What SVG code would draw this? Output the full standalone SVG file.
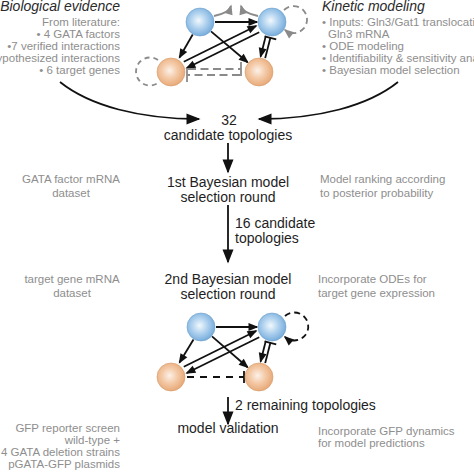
<svg xmlns="http://www.w3.org/2000/svg" width="474" height="474" viewBox="0 0 474 474">
<style>
text{font-family:"Liberation Sans",Arial,sans-serif}
.t{font-size:14px;fill:#1e1e1e}
.h{font-size:14px;fill:#2a2a2a;font-style:italic}
.g{font-size:11.5px;fill:#8e8e8e}
.e{stroke:#111;stroke-width:1.8;fill:none}
.gy{stroke:#8a8a8a;stroke-width:1.8;fill:none}
.d{stroke-dasharray:8 4.5}
.db{stroke-dasharray:7 6}
.tf{fill:url(#gb);stroke:#6b9fcc;stroke-width:0.6}
.tg{fill:url(#go);stroke:#d79a6a;stroke-width:0.6}
</style>
<defs>
<radialGradient id="gb" cx="0.45" cy="0.45" r="0.6">
<stop offset="0" stop-color="#f2f8fd"/><stop offset="0.45" stop-color="#b2d3ef"/><stop offset="1" stop-color="#6ea7d9"/>
</radialGradient>
<radialGradient id="go" cx="0.45" cy="0.45" r="0.6">
<stop offset="0" stop-color="#fcf1e9"/><stop offset="0.45" stop-color="#f4cba9"/><stop offset="1" stop-color="#e6a470"/>
</radialGradient>
<marker id="ah" viewBox="0 0 10 8" refX="8.5" refY="4" markerWidth="10" markerHeight="8" markerUnits="userSpaceOnUse" orient="auto" overflow="visible"><path d="M0,0 L10,4 L0,8 z" fill="#111"/></marker>
<marker id="ahg" viewBox="0 0 10 8" refX="8.5" refY="4" markerWidth="10" markerHeight="8" markerUnits="userSpaceOnUse" orient="auto" overflow="visible"><path d="M0,0 L10,4 L0,8 z" fill="#8a8a8a"/></marker>
<marker id="ahL" viewBox="0 0 14 11" refX="12.5" refY="5.5" markerWidth="14" markerHeight="11" markerUnits="userSpaceOnUse" orient="auto" overflow="visible"><path d="M0,0 L14,5.5 L0,11 z" fill="#111"/></marker>
<marker id="tb" viewBox="-1 -6 2 12" refX="0" refY="0" markerWidth="2" markerHeight="12" markerUnits="userSpaceOnUse" orient="auto" overflow="visible"><path d="M0,-6 V6" stroke="#111" stroke-width="1.8"/></marker>
<marker id="tbg" viewBox="-1 -7 2 14" refX="0" refY="0" markerWidth="2" markerHeight="14" markerUnits="userSpaceOnUse" orient="auto" overflow="visible"><path d="M0,-7 V7" stroke="#8a8a8a" stroke-width="1.8"/></marker>
</defs>

<g id="texts-top">
<text class="h" x="120" y="10.5" text-anchor="end">Biological evidence</text>
<g class="g" text-anchor="end">
<text class="g" x="120" y="26">From literature:</text>
<text class="g" x="120" y="37.5">• 4 GATA factors</text>
<text class="g" x="120" y="50">•7 verified interactions</text>
<text class="g" x="120" y="62">hypothesized interactions</text>
<text class="g" x="120" y="74">• 6 target genes</text>
</g>
<text class="h" x="322" y="10.5">Kinetic modeling</text>
<text class="g" x="322" y="25.5">• Inputs: Gln3/Gat1 translocation</text>
<text class="g" x="328" y="37.5">Gln3 mRNA</text>
<text class="g" x="322" y="50">• ODE modeling</text>
<text class="g" x="322" y="62">• Identifiability &amp; sensitivity analysis</text>
<text class="g" x="322" y="74">• Bayesian model selection</text>
</g>

<g id="connectors">
<!-- top network -->
<path class="e" d="M215,22 L257,22" marker-end="url(#ah)"/>
<path class="e" d="M192.7,34.5 L179.5,57.5" marker-end="url(#ah)"/>
<path class="e" d="M211,31.4 L247.6,62.3" marker-end="url(#ah)"/>
<path class="e" d="M183.8,61.8 L256.1,26" marker-end="url(#ah)"/>
<path class="e" d="M259.2,32.2 L186.8,68" marker-end="url(#ah)"/>
<path class="e" d="M265.8,35.9 L260.6,56.5" marker-end="url(#ah)"/>
<path class="e" d="M265.2,58.1 L270.4,37.8" marker-end="url(#tb)"/>
<path class="gy d" d="M188,69 L241,69" marker-end="url(#tbg)"/>
<path class="gy d" d="M240,75 L187,75" marker-end="url(#tbg)"/>
<path class="gy" stroke-dasharray="5 4" d="M158,60 A14,14 0 1,0 158,83"/>
<path class="gy" stroke-dasharray="6 4" d="M284,10 A13.5,13.5 0 1,1 285,30" marker-end="url(#ahg)"/>
<path class="gy" d="M214,16 Q229,13 231,6" marker-end="url(#ahg)"/>
<path class="gy" d="M258,16 Q243,13 241,6" marker-end="url(#ahg)"/>
<!-- flow arrows -->
<path class="e" d="M60,82 C90,106 140,119 199,119" marker-end="url(#ahL)"/>
<path class="e" d="M398,82 C368,106 318,119 259,119" marker-end="url(#ahL)"/>
<path class="e" d="M228,143 L228,172" marker-end="url(#ahL)"/>
<path class="e" d="M228,205 L228,262" marker-end="url(#ahL)"/>
<path class="e" d="M228,397 L228,424" marker-end="url(#ahL)"/>
<!-- bottom network -->
<path class="e" d="M216,327 L257,327" marker-end="url(#ah)"/>
<path class="e" d="M193.5,339.5 L179.5,362.5" marker-end="url(#ah)"/>
<path class="e" d="M212,336.4 L247.6,367.3" marker-end="url(#ah)"/>
<path class="e" d="M183.8,366.8 L256.1,331" marker-end="url(#ah)"/>
<path class="e" d="M259.2,337.2 L186.8,373" marker-end="url(#ah)"/>
<path class="e" d="M265.8,340.9 L260.6,361.5" marker-end="url(#ah)"/>
<path class="e" d="M265.2,363.1 L270.4,342.8" marker-end="url(#tb)"/>
<path class="e db" d="M187,377 L244,377" marker-end="url(#tb)"/>
<path class="e" stroke-dasharray="6 4" d="M285,316 A14,14 0 1,1 285,337" marker-end="url(#ah)"/>
</g>

<g id="top-tf1"><circle class="tf" cx="200" cy="22" r="14"/></g>
<g id="top-tf2"><circle class="tf" cx="272" cy="22" r="14"/></g>
<g id="top-tg1"><circle class="tg" cx="171" cy="72" r="14"/></g>
<g id="top-tg2"><circle class="tg" cx="259" cy="72" r="14"/></g>

<g id="bot-tf1"><circle class="tf" cx="201" cy="327" r="14"/></g>
<g id="bot-tf2"><circle class="tf" cx="272" cy="327" r="14"/></g>
<g id="bot-tg1"><circle class="tg" cx="171" cy="377" r="14"/></g>
<g id="bot-tg2"><circle class="tg" cx="259" cy="377" r="14"/></g>

<g id="step-candidates" text-anchor="middle">
<text class="t" x="229" y="125">32</text>
<text class="t" x="228" y="140">candidate topologies</text>
</g>
<g id="step-round1">
<text class="t" x="228" y="186.5" text-anchor="middle">1st Bayesian model</text>
<text class="t" x="228" y="201.5" text-anchor="middle">selection round</text>
<text class="g" x="71" y="183" text-anchor="middle">GATA factor mRNA</text>
<text class="g" x="71" y="197" text-anchor="middle">dataset</text>
<text class="g" x="320" y="183">Model ranking according</text>
<text class="g" x="320" y="197">to posterior probability</text>
</g>
<g id="label-16">
<text class="t" x="235" y="228">16 candidate</text>
<text class="t" x="235" y="243">topologies</text>
</g>
<g id="step-round2">
<text class="t" x="228" y="283.5" text-anchor="middle">2nd Bayesian model</text>
<text class="t" x="228" y="298.5" text-anchor="middle">selection round</text>
<text class="g" x="72" y="283" text-anchor="middle">target gene mRNA</text>
<text class="g" x="72" y="297" text-anchor="middle">dataset</text>
<text class="g" x="318" y="283">Incorporate ODEs for</text>
<text class="g" x="318" y="297">target gene expression</text>
</g>
<g id="step-validation">
<text class="t" x="235" y="410">2 remaining topologies</text>
<text class="t" x="228" y="433" text-anchor="middle">model validation</text>
<text class="g" x="120" y="432" text-anchor="end">GFP reporter screen</text>
<text class="g" x="120" y="444" text-anchor="end">wild-type +</text>
<text class="g" x="120" y="456" text-anchor="end">4 GATA deletion strains</text>
<text class="g" x="120" y="468" text-anchor="end">pGATA-GFP plasmids</text>
<text class="g" x="318" y="435">Incorporate GFP dynamics</text>
<text class="g" x="318" y="447">for model predictions</text>
</g>
</svg>
